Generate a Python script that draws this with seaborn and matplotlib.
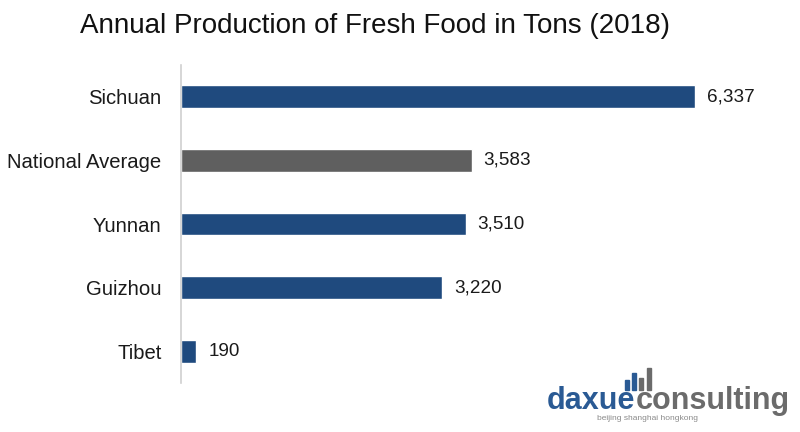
import seaborn as sns
import matplotlib.pyplot as plt
import pandas as pd
from matplotlib.patches import Rectangle

regions = ["Sichuan", "National Average", "Yunnan", "Guizhou", "Tibet"]
tons = [6337, 3583, 3510, 3220, 190]
bar_colors = ["#1f4a7e", "#5f5f5f", "#1f4a7e", "#1f4a7e", "#1f4a7e"]

df = pd.DataFrame({"region": regions, "tons": tons})

sns.set_theme(style="white")
plt.rcParams["font.family"] = ["Liberation Sans", "DejaVu Sans"]

fig = plt.figure(figsize=(8, 4.32), dpi=100)
xmax = 7000
ax = fig.add_axes([181 / 800, 49 / 432, 514 * xmax / 6337 / 800, 318 / 432])

sns.barplot(data=df, x="tons", y="region", hue="region", palette=bar_colors,
            legend=False, width=0.36, saturation=1, ax=ax)
ax.set_xlim(0, xmax)
ax.set_ylim(4.5, -0.5)

for i, v in enumerate(tons):
    ax.annotate(f"{v:,}", xy=(v, i), xytext=(8.5, 0), textcoords="offset points",
                va="center", ha="left", fontsize=13.6, color="#1a1a1a")

ax.set_xlabel("")
ax.set_ylabel("")
ax.set_xticks([])
ax.tick_params(axis="y", length=0, pad=14, labelsize=14.6, labelcolor="#1a1a1a")
for s in ["top", "right", "bottom"]:
    ax.spines[s].set_visible(False)
ax.spines["left"].set_color("#d0d0d0")
ax.spines["left"].set_linewidth(1.2)

fig.text(0.469, 0.94, "Annual Production of Fresh Food in Tons (2018)",
         ha="center", va="center", fontsize=20, color="#111111")

# logo
t1 = fig.text(547 / 800, 1 - 409 / 432, "daxue", fontsize=22, fontweight="bold",
              color="#2a5a94", ha="left", va="baseline")
fig.canvas.draw()
bb = t1.get_window_extent()
fig.text(bb.x1 / 800, 1 - 409 / 432, "consulting", fontsize=22, fontweight="bold",
         color="#6b6b6b", ha="left", va="baseline")
fig.text(597 / 800, 1 - 420 / 432, "beijing shanghai hongkong", fontsize=6,
         color="#8a8a8a", ha="left", va="baseline")
for x0, top, c in [(625, 380, "#2a5a94"), (632, 373, "#2a5a94"),
                   (639, 378, "#6b6b6b"), (647, 368, "#6b6b6b")]:
    fig.patches.append(Rectangle((x0 / 800, 1 - 390 / 432), 4 / 800, (390 - top) / 432,
                                 transform=fig.transFigure, color=c))

fig.savefig("out.png", dpi=100)
